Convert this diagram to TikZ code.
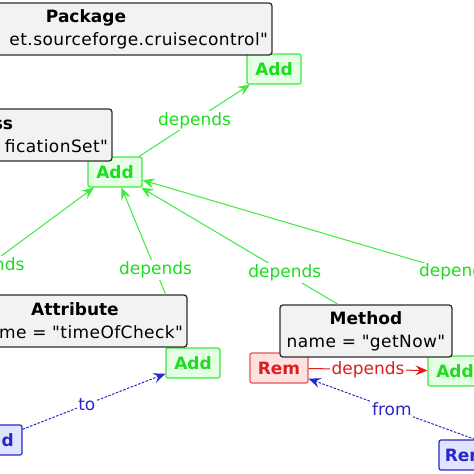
\documentclass[tikz,border=0pt]{standalone}
\usepackage{fontspec}
\setmainfont{DejaVu Sans}[Ligatures=TeXOff]
\usetikzlibrary{arrows.meta,positioning}
\definecolor{addgreen}{RGB}{30,220,30}
\definecolor{addfill}{RGB}{228,255,228}
\definecolor{addline}{RGB}{60,235,60}
\definecolor{remred}{RGB}{220,30,30}
\definecolor{remfill}{RGB}{255,225,225}
\definecolor{remline}{RGB}{230,85,85}
\definecolor{refblue}{RGB}{40,40,200}
\definecolor{reffill}{RGB}{225,228,255}
\definecolor{boxfill}{RGB}{242,242,242}
\definecolor{boxline}{RGB}{45,45,45}
\newcommand{\diagfont}{\fontsize{17}{23}\selectfont}
\newcommand{\valtext}{\addfontfeature{LetterSpace=2.5}}

\begin{document}
\begin{tikzpicture}[x=1pt,y=-1pt,>={Stealth[length=12pt,width=10pt,inset=4.5pt]},
                    font=\diagfont]
  \tikzstyle{classbox}=[draw=boxline, fill=boxfill, rounded corners=3pt, line width=1.3pt,
                        inner xsep=4pt, inner ysep=0pt, minimum height=52pt, align=center]
  \tikzstyle{addbox}=[draw=addline, fill=addfill, text=addgreen, font=\diagfont\bfseries,
                      rounded corners=2pt, line width=1.2pt, minimum width=54pt, minimum height=30pt]
  \tikzstyle{rembox}=[addbox, draw=remline, fill=remfill, text=remred, minimum width=58pt]
  \tikzstyle{refbox}=[addbox, draw=refblue, fill=reffill, text=refblue]
  \tikzstyle{lbl}=[fill=white, inner sep=1.5pt]
  \tikzstyle{dep}=[->, draw=addline, text=addgreen, line width=1pt]
  \tikzstyle{remdep}=[->, draw=remred, text=remred, line width=1pt]
  \tikzstyle{ref}=[->, draw=refblue, text=refblue, line width=1pt, dash pattern=on 2.5pt off 1.5pt]

  \useasboundingbox (0,0) rectangle (474,474);

  % changes
  \node[addbox] (addPkg)  at (274,69)  {Add};
  \node[addbox] (addCls)  at (115,172) {Add};
  \node[addbox] (addAttr) at (193,363) {Add};
  \node[addbox] (addMeth) at (455,371) {Add};
  \node[rembox] (remMeth) at (279,368) {Rem};
  \node[refbox] (addBlue) at (-5,440)  {Add};
  \node[refbox] (remBlue) at (466,455) {Rem};

  % model elements
  \node[classbox, text width=364pt] (pkg)  at (86,29)   {\textbf{Package}\\\mbox{}\hfill{\valtext et.sourceforge.cruisecontrol"}};
  \node[classbox, text width=240pt] (cls)  at (-12,135) {\textbf{Class}\\\mbox{}\hfill{\valtext ficationSet"}};
  \node[classbox, text width=216pt] (attr) at (75,321)  {\textbf{Attribute}\\\mbox{}\hfill{\valtext me = "timeOfCheck"}};
  \node[classbox, text width=164pt] (meth) at (366,331) {\textbf{Method}\\{\valtext name = "getNow"}};

  \coordinate (offL) at (-118,344);
  \coordinate (offR) at (560,303);

  \path (addCls) edge[dep] node[lbl] {depends} (addPkg)
        (offL) edge[dep] node[lbl] {depends} (addCls)
        ([xshift=-22pt]attr.north east) edge[dep] node[lbl, pos=0.23] {depends} (addCls)
        ([xshift=-28pt]meth.north) edge[dep] node[lbl, pos=0.27] {depends} (addCls)
        (offR) edge[dep] node[lbl, pos=0.25] {depends} (addCls);

  \path (remMeth) edge[remdep] node[lbl] {depends} (addMeth);

  \path (addBlue) edge[ref] node[lbl, pos=0.45] {to} (addAttr)
        ([xshift=9pt]remBlue.north) edge[ref] node[lbl] {from} (remMeth);
\end{tikzpicture}
\end{document}
